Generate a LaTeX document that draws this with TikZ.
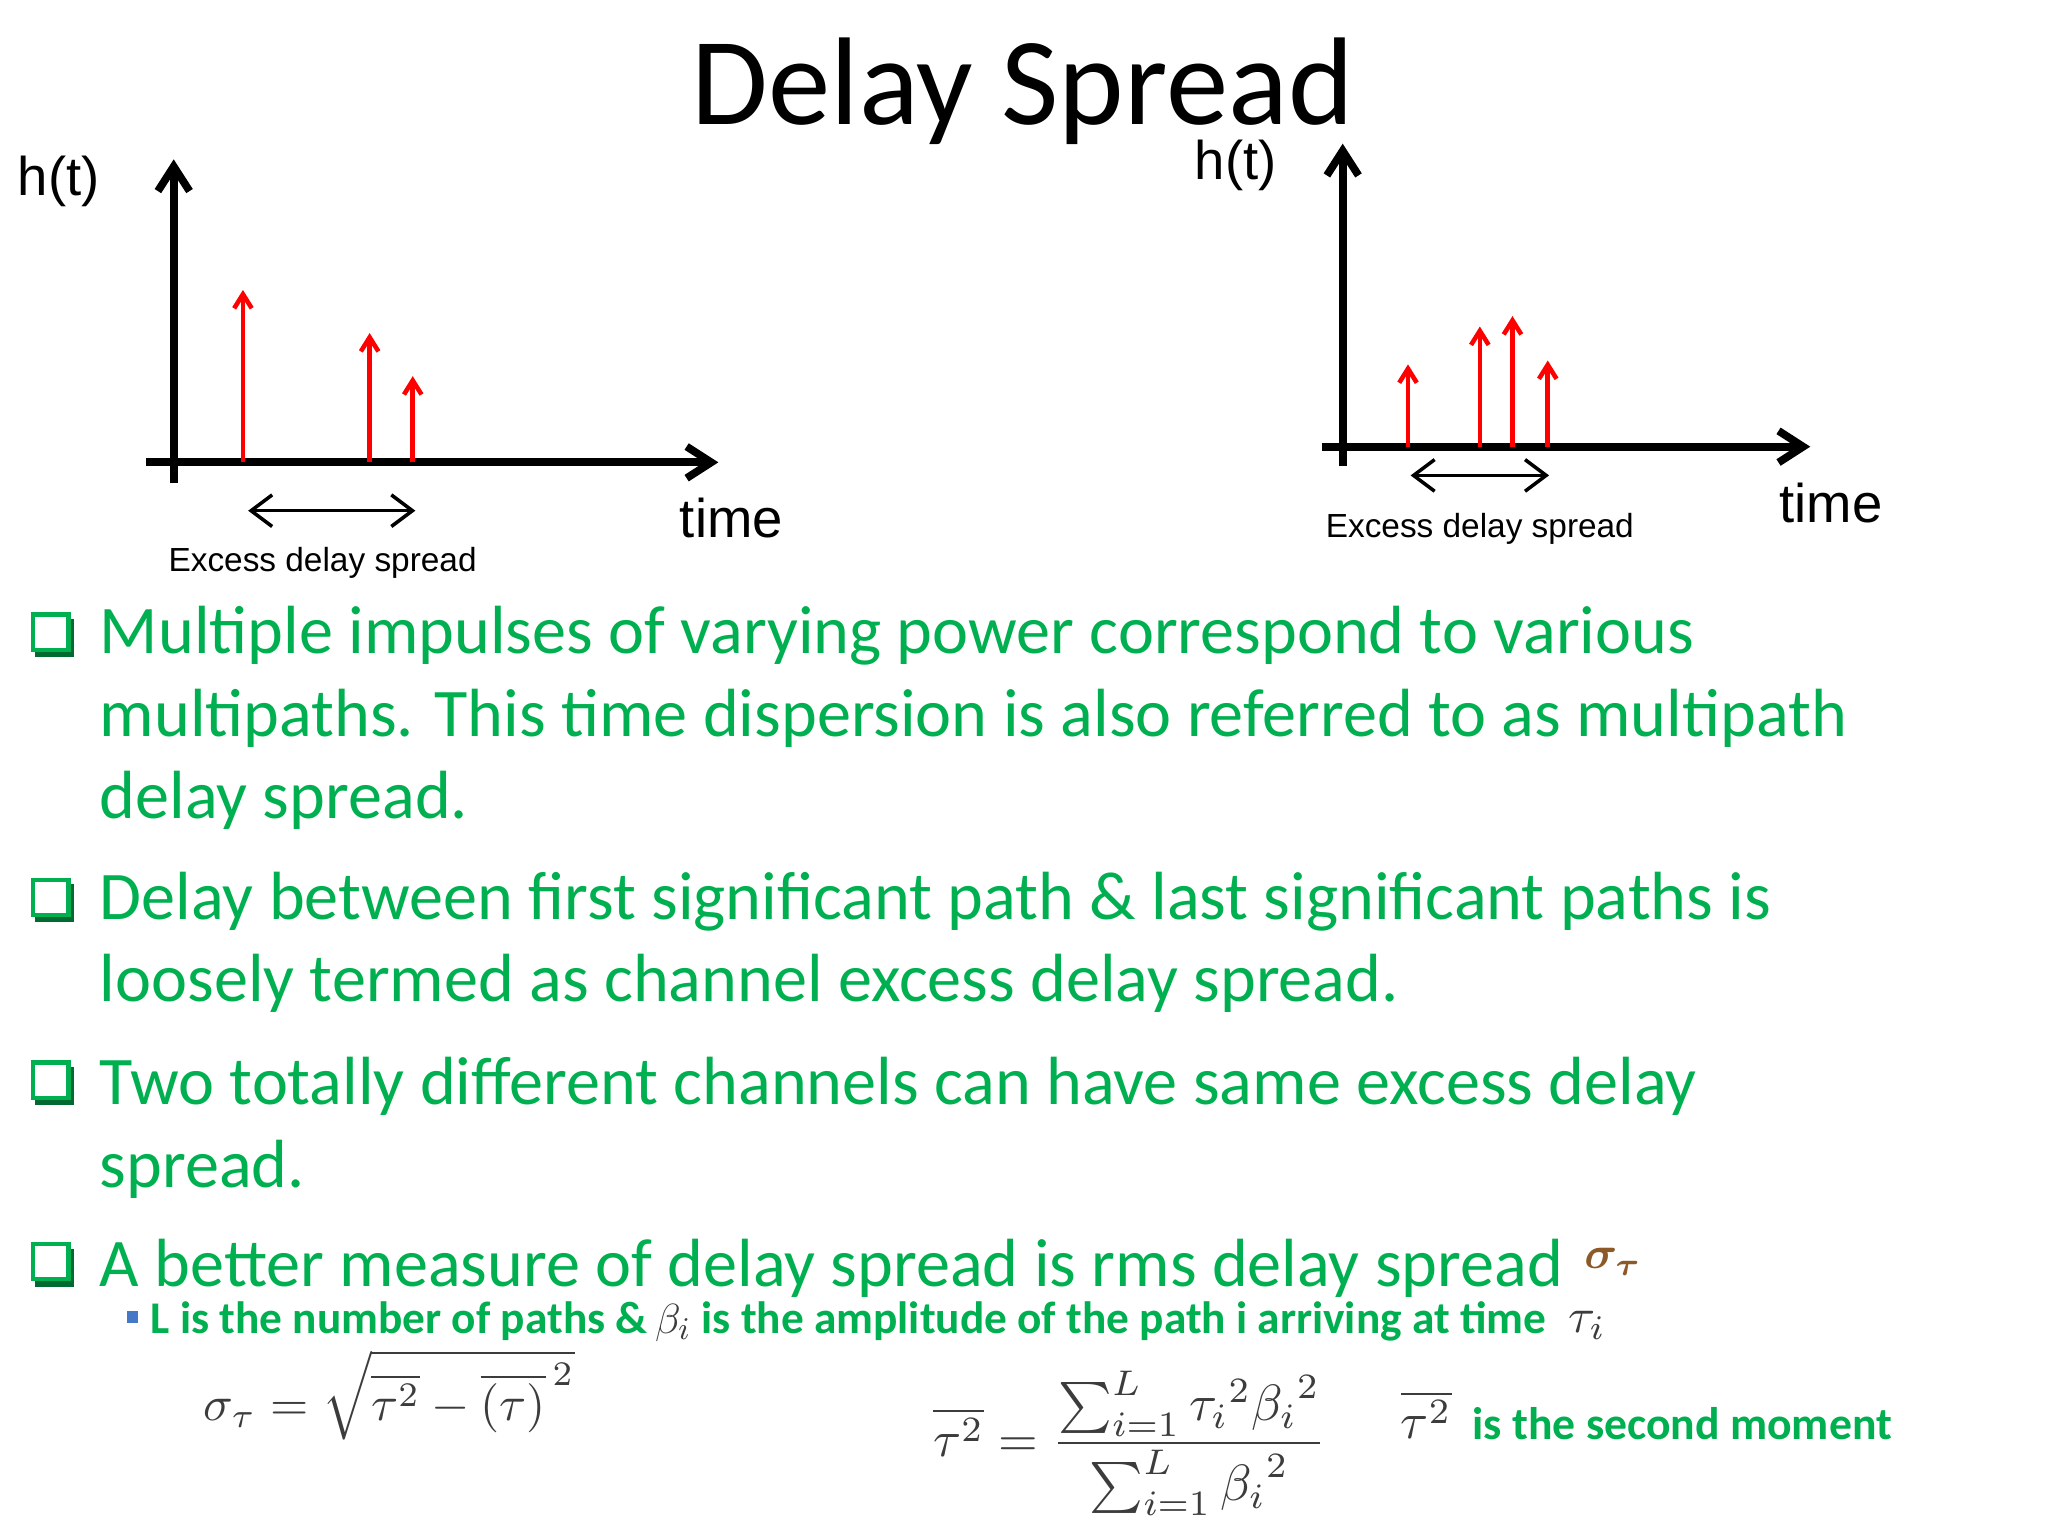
\documentclass[tikz,border=0pt]{standalone}
\usepackage{amsmath}
\usepackage{fontspec}
\usepackage{graphicx}
\setmainfont{Carlito}
\newfontfamily\arial{Liberation Sans}
\usetikzlibrary{arrows.meta}
\definecolor{ogreen}{RGB}{0,176,80}
\definecolor{fgray}{RGB}{60,60,60}
\definecolor{sigbrown}{RGB}{140,90,40}
\definecolor{bulblue}{RGB}{70,120,200}
\tikzset{
 axis/.style={line width=2.2pt,-{Straight Barb[length=7pt,width=9pt]}},
 imp/.style={red,line width=1.3pt,-{Straight Barb[length=4pt,width=5pt]}},
 span/.style={line width=1pt,{Straight Barb[length=6pt,width=9pt]}-{Straight Barb[length=6pt,width=9pt]}},
 lab/.style={font=\arial\fontsize{15.5}{18}\selectfont},
 small/.style={font=\arial\fontsize{9.5}{11}\selectfont},
 bul/.style={anchor=west,text=ogreen,font=\fontsize{19.4}{22}\selectfont,inner sep=0pt},
 cb/.style={draw=ogreen,line width=1.2pt,minimum size=10pt,inner sep=0pt,fill=white},
}
\begin{document}
\begin{tikzpicture}[x=0.01306cm,y=-0.01306cm]
\useasboundingbox (0,0) rectangle (1568,1176);
\node[font=\fontsize{35.5}{40}\selectfont] (title) at (783,70) {Delay Spread};
% left plot
\coordinate (lv0) at (133,370); \coordinate (lv1) at (133,122);
\coordinate (lh0) at (112,354); \coordinate (lh1) at (550,354);
\draw[axis] (lv0) -- (lv1); \draw[axis] (lh0) -- (lh1);
\foreach \x/\y [count=\i] in {186/222,283/255,316/288}{
 \coordinate (la\i) at (\x,354); \coordinate (lb\i) at (\x,\y); \draw[imp] (la\i) -- (lb\i);}
\coordinate (ls0) at (190,391); \coordinate (ls1) at (318,391);
\draw[span] (ls0) -- (ls1);
\node[lab] (lht) at (45,139) {h(t)};
\node[lab] (ltime) at (560,397) {time};
\node[small] (lexc) at (247,431) {Excess delay spread};
% right plot
\coordinate (rv0) at (1028,357); \coordinate (rv1) at (1028,110);
\coordinate (rh0) at (1012,342); \coordinate (rh1) at (1386,342);
\draw[axis] (rv0) -- (rv1); \draw[axis] (rh0) -- (rh1);
\foreach \x/\y [count=\i] in {1078/279,1133/250,1158/242,1185/276}{
 \coordinate (ra\i) at (\x,342); \coordinate (rb\i) at (\x,\y); \draw[imp] (ra\i) -- (rb\i);}
\coordinate (rs0) at (1080,364); \coordinate (rs1) at (1186,364);
\draw[span] (rs0) -- (rs1);
\node[lab] (rht) at (946,127) {h(t)};
\node[lab] (rtime) at (1402,385) {time};
\node[small] (rexc) at (1133,405) {Excess delay spread};
% bullets
\foreach \y [count=\i] in {484,687,827,966}{
 \fill[ogreen!60!black] (27,\y-10) rectangle (57,\y+19);
 \node[cb] (cb\i) at (39,\y) {};}
\node[bul] (b1a) at (76,487) {Multiple impulses of varying power correspond to various};
\node[bul] (b1b) at (76,550) {multipaths. This time dispersion is also referred to as multipath};
\node[bul] (b1c) at (76,613) {delay spread.};
\node[bul] (b2a) at (76,690) {Delay between first significant path \& last significant paths is};
\node[bul] (b2b) at (76,753) {loosely termed as channel excess delay spread.};
\node[bul] (b3a) at (76,832) {Two totally different channels can have same excess delay};
\node[bul] (b3b) at (76,895) {spread.};
\node[bul] (b4a) at (76,971) {A better measure of delay spread is rms delay spread};
\node[text=sigbrown] (sig) at (1235,966) {\scalebox{1.3}{$\boldsymbol{\sigma_\tau}$}};
\fill[bulblue] (97,1004) rectangle (106,1013);
\node[anchor=west,text=ogreen,font=\bfseries\fontsize{12.9}{15}\selectfont,inner sep=0pt] (sub) at (115,1012) {L is the number of paths \&\,{\color{fgray}$\beta_i$} is the amplitude of the path i arriving at time};
\node[text=fgray] (taui) at (1215,1015) {\scalebox{1.4}{$\tau_i$}};
\node[text=fgray] (f1) at (298,1068) {\scalebox{1.4}{$\sigma_\tau=\sqrt{\overline{\tau^2}-\overline{(\tau)}^{\,2}}$}};
\node[text=fgray] (f2) at (865,1105) {\scalebox{1.45}{$\overline{\tau^2}=\dfrac{\sum_{i=1}^L{\tau_i}^2{\beta_i}^2}{\sum_{i=1}^L{\beta_i}^2}$}};
\node[text=fgray] (f3) at (1092,1083) {\scalebox{1.45}{$\overline{\tau^2}$}};
\node[anchor=west,text=ogreen,font=\bfseries\fontsize{13}{16}\selectfont,inner sep=0pt] (mom) at (1127,1090) {is the second moment};
\end{tikzpicture}
\end{document}
